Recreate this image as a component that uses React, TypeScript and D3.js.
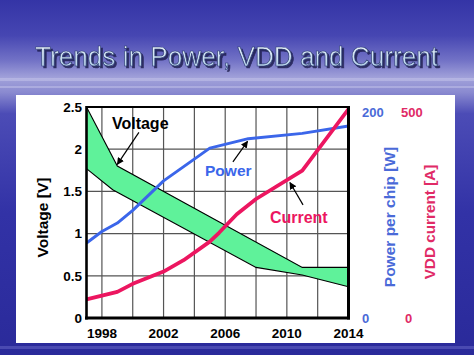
import React from "react";
import * as d3 from "d3";

const W = 474;
const H = 355;

// Voltage band (V)
const vUpperYears = [1997, 1999, 2011, 2014];
const vUpperVals = [2.5, 1.8, 0.6, 0.6];
const vLowerYears = [1997, 1998.7, 2008, 2011, 2014];
const vLowerVals = [1.77, 1.52, 0.6, 0.51, 0.37];

// Power per chip (W)
const powerYears = [1997, 1998, 1999, 2000, 2002, 2005, 2007.5, 2011, 2014];
const powerVals = [71, 82, 90, 102, 130, 161, 170, 175, 182];

// VDD current (A)
const currentYears = [1997, 1999, 2000, 2002, 2003.3, 2005, 2005.6, 2006.75, 2008, 2011, 2014];
const currentVals = [44, 62, 81, 110, 137, 181, 202, 246, 282, 349, 495];

const xTickYears = [1998, 2002, 2006, 2010, 2014];
const gridYears = [1998, 2000, 2002, 2004, 2006, 2008, 2010, 2012];
const vTicks = [0, 0.5, 1, 1.5, 2, 2.5];
const vTickLabels = ["0", "0.5", "1", "1.5", "2", "2.5"];
const powerTicks = [0, 200];
const currentTicks = [0, 500];

const FONT = "'Liberation Sans', Arial, Helvetica, sans-serif";
const BLUE = "#3b66ea";
const PINK = "#ec1660";
const GREEN = "#5ff29a";

export default function App() {
  const x = d3.scaleLinear().domain([1997, 2014]).range([86.5, 348.5]);
  const yV = d3.scaleLinear().domain([0, 2.5]).range([318, 107]);
  const yP = d3.scaleLinear().domain([0, 200]).range([318, 107]);
  const yC = d3.scaleLinear().domain([0, 500]).range([318, 107]);

  const upper: [number, number][] = vUpperYears.map((yr, i) => [x(yr), yV(vUpperVals[i])]);
  const lower: [number, number][] = vLowerYears.map((yr, i) => [x(yr), yV(vLowerVals[i])]);
  const line = d3.line();
  const bandPath = line([...upper, ...lower.slice().reverse()]) + "Z";

  const powerPath = line(powerYears.map((yr, i) => [x(yr), yP(powerVals[i])] as [number, number]));
  const currentPath = line(currentYears.map((yr, i) => [x(yr), yC(currentVals[i])] as [number, number]));

  // annotation arrows in data units
  const vArrow = { from: [x(2000.4), yV(2.2)], to: [x(1999.0), yV(1.82)] };
  const pArrow = { from: [x(2006.5), yP(148)], to: [x(2007.45), yP(167.5)] };
  const cArrow = { from: [x(2011.05), yC(268)], to: [x(2010.2), yC(321)] };

  const arrow = (a: { from: number[]; to: number[] }, key: string) => (
    <line
      key={key}
      x1={a.from[0]}
      y1={a.from[1]}
      x2={a.to[0]}
      y2={a.to[1]}
      stroke="#000"
      strokeWidth={1.2}
      markerEnd="url(#ah)"
    />
  );

  const title = "Trends in Power, VDD and Current";

  return (
    <svg
      width={W}
      height={H}
      style={{ position: "absolute", left: 0, top: 0, display: "block" }}
      xmlns="http://www.w3.org/2000/svg"
    >
      <defs>
        <linearGradient id="bg" x1="0" y1="0" x2="0" y2="1">
          <stop offset="0" stopColor="#3434a6" />
          <stop offset="0.1" stopColor="#4646b2" />
          <stop offset="0.17" stopColor="#7272c6" />
          <stop offset="0.22" stopColor="#a2a2da" />
          <stop offset="0.26" stopColor="#8a8ad0" />
          <stop offset="0.32" stopColor="#4c4cb6" />
          <stop offset="0.6" stopColor="#3232a6" />
          <stop offset="1" stopColor="#2a2a9a" />
        </linearGradient>
        <linearGradient id="tf" x1="0" y1="0" x2="0" y2="1">
          <stop offset="0" stopColor="#f4faff" />
          <stop offset="1" stopColor="#a9c9e6" />
        </linearGradient>
        <filter id="ts" x="-5%" y="-30%" width="110%" height="160%">
          <feDropShadow dx="2" dy="2" stdDeviation="0.6" floodColor="#15154a" floodOpacity="0.8" />
        </filter>
        <marker id="ah" viewBox="0 0 10 10" refX="9" refY="5" markerWidth="6" markerHeight="6" orient="auto">
          <path d="M0,0 L10,5 L0,10 z" fill="#000" />
        </marker>
        <clipPath id="plot">
          <rect x={86.5} y={107} width={262} height={211} />
        </clipPath>
      </defs>

      <rect x={0} y={0} width={W} height={H} fill="url(#bg)" />
      {/* soft streaks */}
      <rect x={0} y={78} width={W} height={3} fill="#d8d8f4" opacity={0.35} />
      <rect x={0} y={86} width={W} height={2} fill="#e4e4f8" opacity={0.3} />
      <rect x={0} y={346} width={W} height={3} fill="#6a6ac8" opacity={0.5} />

      {/* title */}
      <text
        x={35}
        y={66}
        fontFamily={FONT}
        fontSize={28}
        textLength={403}
        lengthAdjust="spacingAndGlyphs"
        fill="url(#tf)"
        stroke="#2a3a70"
        strokeWidth={0.7}
        filter="url(#ts)"
      >
        {title}
      </text>

      {/* white panel */}
      <rect x={16} y={95} width={439} height={248} fill="#ffffff" />

      {/* grid */}
      {gridYears.map((g) => (
        <line key={"gx" + g} x1={x(g)} x2={x(g)} y1={107} y2={318} stroke="#555" strokeWidth={1.2} />
      ))}
      {vTicks.slice(1, -1).map((v) => (
        <line key={"gy" + v} x1={86.5} x2={348.5} y1={yV(v)} y2={yV(v)} stroke="#555" strokeWidth={1.2} />
      ))}

      <g clipPath="url(#plot)">
        <path d={bandPath} fill={GREEN} stroke="none" />
        <path d={line(upper) || ""} fill="none" stroke="#000" strokeWidth={1.1} />
        <path d={line(lower) || ""} fill="none" stroke="#000" strokeWidth={1.1} />
        <path d={powerPath || ""} fill="none" stroke={BLUE} strokeWidth={3} strokeLinejoin="round" />
        <path d={currentPath || ""} fill="none" stroke={PINK} strokeWidth={3.8} strokeLinejoin="round" />
      </g>

      {/* frame */}
      <line x1={86.5} x2={348.5} y1={107} y2={107} stroke="#000" strokeWidth={2} />
      <line x1={86.5} x2={86.5} y1={106} y2={319.5} stroke="#000" strokeWidth={2.6} />
      <line x1={348.5} x2={348.5} y1={106} y2={319.5} stroke="#000" strokeWidth={3} />
      <line x1={85} x2={350} y1={318} y2={318} stroke="#000" strokeWidth={3} />

      {/* annotations */}
      <text x={x(1998.65)} y={yV(2.24)} fontFamily={FONT} fontWeight="bold" fontSize={16} fill="#000">
        Voltage
      </text>
      <text x={x(2004.69)} y={yP(134.2)} fontFamily={FONT} fontWeight="bold" fontSize={15.5} fill={BLUE}>
        Power
      </text>
      <text x={x(2008.9)} y={yC(225)} fontFamily={FONT} fontWeight="bold" fontSize={16} fill={PINK}>
        Current
      </text>
      {arrow(vArrow, "va")}
      {arrow(pArrow, "pa")}
      {arrow(cArrow, "ca")}

      {/* left ticks */}
      {vTicks.map((v, i) => (
        <text
          key={"vt" + v}
          x={82}
          y={yV(v)}
          dy="0.36em"
          textAnchor="end"
          fontFamily={FONT}
          fontWeight="bold"
          fontSize={13.5}
          fill="#000"
        >
          {vTickLabels[i]}
        </text>
      ))}
      {/* bottom ticks */}
      {xTickYears.map((yr) => (
        <text
          key={"xt" + yr}
          x={x(yr)}
          y={337.5}
          textAnchor="middle"
          fontFamily={FONT}
          fontWeight="bold"
          fontSize={13.5}
          fill="#000"
        >
          {yr}
        </text>
      ))}
      {/* right ticks */}
      {powerTicks.map((p) => (
        <text
          key={"pt" + p}
          x={362}
          y={p === 0 ? yP(p) : yP(p) + 5}
          dy="0.36em"
          fontFamily={FONT}
          fontWeight="bold"
          fontSize={13}
          fill="#4a6ad8"
        >
          {p}
        </text>
      ))}
      {currentTicks.map((c) => (
        <text
          key={"ct" + c}
          x={c === 0 ? 405 : 401}
          y={c === 0 ? yC(c) : yC(c) + 5}
          dy="0.36em"
          fontFamily={FONT}
          fontWeight="bold"
          fontSize={13}
          fill="#e02a66"
        >
          {c}
        </text>
      ))}

      {/* axis titles */}
      <text
        transform="translate(47.5,217.5) rotate(-90)"
        textAnchor="middle"
        fontFamily={FONT}
        fontWeight="bold"
        fontSize={15.5}
        fill="#000"
      >
        Voltage [V]
      </text>
      <text
        transform="translate(395,217) rotate(-90)"
        textAnchor="middle"
        fontFamily={FONT}
        fontWeight="bold"
        fontSize={15.5}
        fill="#4a6ad8"
      >
        Power per chip [W]
      </text>
      <text
        transform="translate(434.5,222) rotate(-90)"
        textAnchor="middle"
        fontFamily={FONT}
        fontWeight="bold"
        fontSize={15.3}
        fill="#e02a66"
      >
        VDD current [A]
      </text>
    </svg>
  );
}
